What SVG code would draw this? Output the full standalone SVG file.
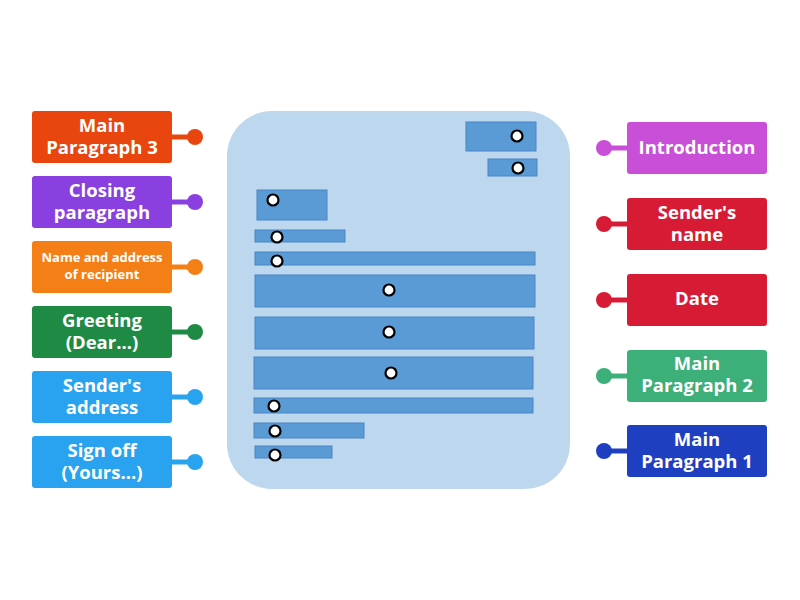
<svg xmlns="http://www.w3.org/2000/svg" width="800" height="600" viewBox="0 0 800 600">
<style>
text{font-family:"Open Sans","Noto Sans",sans-serif;font-weight:bold;fill:#fff;text-anchor:middle;font-size:18.5px}
text.sm{font-size:13px}
.bar{fill:#5b9bd5;stroke:#4a86c5;stroke-width:1}
.pin{fill:#fff;stroke:#000;stroke-width:2.2}
</style>
<rect width="800" height="600" fill="#fff"/>
<g id="panel">
<rect x="227" y="111" width="343" height="378" rx="45" fill="#bdd7ee"/>
<rect class="bar" x="466" y="122" width="70" height="29"/>
<rect class="bar" x="488" y="159" width="49" height="17"/>
<rect class="bar" x="257" y="190" width="70" height="30"/>
<rect class="bar" x="255" y="230" width="90" height="12"/>
<rect class="bar" x="255" y="252" width="280" height="13"/>
<rect class="bar" x="255" y="275" width="280" height="32"/>
<rect class="bar" x="255" y="317" width="279" height="32"/>
<rect class="bar" x="254" y="357" width="279" height="32"/>
<rect class="bar" x="254" y="398" width="279" height="15"/>
<rect class="bar" x="254" y="423" width="110" height="15"/>
<rect class="bar" x="255" y="446" width="77" height="12"/>
<circle class="pin" cx="517" cy="136" r="5.5"/>
<circle class="pin" cx="518" cy="168" r="5.5"/>
<circle class="pin" cx="273" cy="200" r="5.5"/>
<circle class="pin" cx="277" cy="237" r="5.5"/>
<circle class="pin" cx="277" cy="261" r="5.5"/>
<circle class="pin" cx="389" cy="290" r="5.5"/>
<circle class="pin" cx="389" cy="332" r="5.5"/>
<circle class="pin" cx="391" cy="373" r="5.5"/>
<circle class="pin" cx="274" cy="406" r="5.5"/>
<circle class="pin" cx="275" cy="431" r="5.5"/>
<circle class="pin" cx="275" cy="455" r="5.5"/>
</g>
<g id="connectors" stroke-width="5">
<line x1="172" y1="137" x2="195" y2="137" stroke="#e8450f"/><circle cx="195" cy="137" r="8" fill="#e8450f"/>
<line x1="172" y1="202" x2="195" y2="202" stroke="#8a3fe0"/><circle cx="195" cy="202" r="8" fill="#8a3fe0"/>
<line x1="172" y1="267" x2="195" y2="267" stroke="#f57f17"/><circle cx="195" cy="267" r="8" fill="#f57f17"/>
<line x1="172" y1="332" x2="195" y2="332" stroke="#1e8a44"/><circle cx="195" cy="332" r="8" fill="#1e8a44"/>
<line x1="172" y1="397" x2="195" y2="397" stroke="#29a3ef"/><circle cx="195" cy="397" r="8" fill="#29a3ef"/>
<line x1="172" y1="462" x2="195" y2="462" stroke="#29a3ef"/><circle cx="195" cy="462" r="8" fill="#29a3ef"/>
<line x1="604" y1="148" x2="627" y2="148" stroke="#c94fd8"/><circle cx="604" cy="148" r="8" fill="#c94fd8"/>
<line x1="604" y1="224" x2="627" y2="224" stroke="#d81b35"/><circle cx="604" cy="224" r="8" fill="#d81b35"/>
<line x1="604" y1="300" x2="627" y2="300" stroke="#d81b35"/><circle cx="604" cy="300" r="8" fill="#d81b35"/>
<line x1="604" y1="376" x2="627" y2="376" stroke="#3daf78"/><circle cx="604" cy="376" r="8" fill="#3daf78"/>
<line x1="604" y1="451" x2="627" y2="451" stroke="#1e3fbf"/><circle cx="604" cy="451" r="8" fill="#1e3fbf"/>
</g>
<g id="n1"><rect x="32" y="111" width="140" height="52" rx="3" fill="#e8450f"/><text x="102" y="132">Main</text><text x="102" y="154">Paragraph 3</text></g>
<g id="n2"><rect x="32" y="176" width="140" height="52" rx="3" fill="#8a3fe0"/><text x="102" y="197">Closing</text><text x="102" y="219">paragraph</text></g>
<g id="n3"><rect x="32" y="241" width="140" height="52" rx="3" fill="#f57f17"/><text class="sm" x="102" y="262">Name and address</text><text class="sm" x="102" y="279">of recipient</text></g>
<g id="n4"><rect x="32" y="306" width="140" height="52" rx="3" fill="#1e8a44"/><text x="102" y="327">Greeting</text><text x="102" y="349">(Dear...)</text></g>
<g id="n5"><rect x="32" y="371" width="140" height="52" rx="3" fill="#29a3ef"/><text x="102" y="392">Sender's</text><text x="102" y="414">address</text></g>
<g id="n6"><rect x="32" y="436" width="140" height="52" rx="3" fill="#29a3ef"/><text x="102" y="457">Sign off</text><text x="102" y="479">(Yours...)</text></g>
<g id="n7"><rect x="627" y="122" width="140" height="52" rx="3" fill="#c94fd8"/><text x="697" y="154">Introduction</text></g>
<g id="n8"><rect x="627" y="198" width="140" height="52" rx="3" fill="#d81b35"/><text x="697" y="219">Sender's</text><text x="697" y="241">name</text></g>
<g id="n9"><rect x="627" y="274" width="140" height="52" rx="3" fill="#d81b35"/><text x="697" y="305">Date</text></g>
<g id="n10"><rect x="627" y="350" width="140" height="52" rx="3" fill="#3daf78"/><text x="697" y="370">Main</text><text x="697" y="392">Paragraph 2</text></g>
<g id="n11"><rect x="627" y="425" width="140" height="52" rx="3" fill="#1e3fbf"/><text x="697" y="446">Main</text><text x="697" y="468">Paragraph 1</text></g>
</svg>
